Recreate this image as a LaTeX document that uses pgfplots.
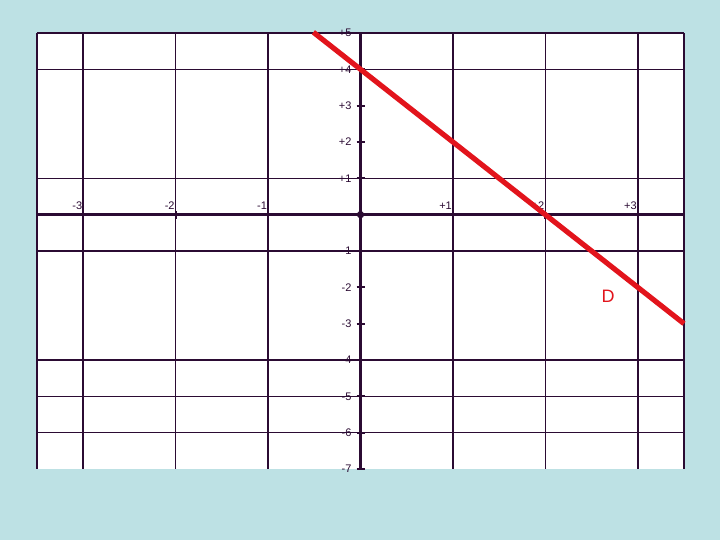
\documentclass[border=0pt]{standalone}
\usepackage{pgfplots}
\pgfplotsset{compat=1.18}
\usepackage{fontspec}
\setmainfont{Liberation Sans}

\definecolor{bgblue}{HTML}{BDE1E4}
\definecolor{gridpurple}{HTML}{2B0B33}
\definecolor{linered}{HTML}{E2141C}

\begin{document}
\begin{tikzpicture}
% slide background, 720x540 px at 0.5pt per px
\fill[bgblue] (0,0) rectangle (360pt,270pt);
\begin{axis}[
    at={(18.5pt,35.5pt)}, anchor=south west,
    scale only axis,
    width=323.5pt, height=218pt,
    xmin=-3.5, xmax=3.5,
    ymin=-7, ymax=5,
    axis background/.style={fill=white},
    axis lines=middle,
    axis line style={-, line width=1.5pt, color=gridpurple},
    xtick={-3,-2,-1,1,2,3},
    xticklabels={-3,-2,-1,+1,+2,+3},
    ytick={-7,-6,-5,-4,-3,-2,-1,1,2,3,4,5},
    yticklabels={-7,-6,-5,-4,-3,-2,-1,+1,+2,+3,+4,+5},
    xmajorgrids=true,
    ymajorgrids=false,
    grid style={line width=0.8pt, color=gridpurple},
    major tick length=4pt,
    tick style={line width=0.9pt, color=gridpurple},
    tick align=center,
    xticklabel style={font=\fontsize{5.5}{6}\selectfont, text=gridpurple, anchor=south east, yshift=1pt, xshift=3pt},
    yticklabel style={font=\fontsize{5.5}{6}\selectfont, text=gridpurple, anchor=east, xshift=1pt},
    /pgf/number format/assume math mode=true,
    extra y ticks={5,4,1,-1,-4,-5,-6},
    extra y tick style={grid=major, major tick length=0pt, yticklabels={}},
    extra x ticks={-3.5,3.5},
    extra x tick style={grid=major, major tick length=0pt, xticklabels={}},
    clip=false,
]
% line D : y = 4 - 2x
\addplot[linered, line width=2.6pt] coordinates {(-0.51,5.02) (3.5,-3.0)};
% origin dot
\addplot[only marks, mark=*, mark size=1.6pt, color=gridpurple] coordinates {(0,0)};
\node[text=linered, font=\fontsize{9}{10}\selectfont] at (axis cs:2.68,-2.25) {D};
\end{axis}
\end{tikzpicture}
\end{document}
